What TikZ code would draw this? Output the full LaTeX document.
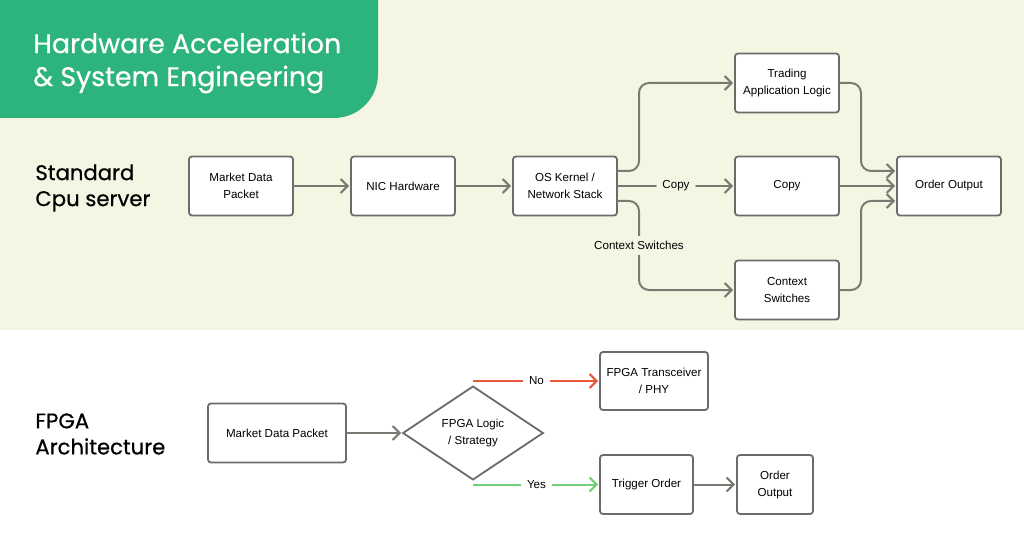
\documentclass[tikz,border=0pt]{standalone}
\usepackage{fontspec}
\setmainfont{Liberation Sans}
\newfontfamily\headfont{Poppins}[FakeBold=0.6]
\usetikzlibrary{arrows.meta,positioning,shapes.geometric}

\definecolor{cream}{HTML}{F4F5E2}
\definecolor{titlegreen}{HTML}{2DB47C}
\definecolor{linegray}{HTML}{7A7A73}
\definecolor{boxgray}{HTML}{6B6B68}
\definecolor{nored}{HTML}{E8573C}
\definecolor{yesgreen}{HTML}{74CC74}

\begin{document}
\begin{tikzpicture}[
    x=0.5pt, y=-0.5pt,
    font=\fontsize{5.8}{8.5}\selectfont,
    node distance=22pt and 29pt,
    box/.style={
        draw=boxgray,
        line width=0.9pt,
        fill=white,
        rounded corners=1.5pt,
        align=center,
        inner sep=1pt,
        outer sep=0pt,
        minimum width=52pt,
        minimum height=29.5pt
    },
    decision/.style={
        diamond,
        draw=boxgray,
        line width=0.9pt,
        fill=white,
        align=center,
        inner sep=0pt,
        outer sep=0pt,
        aspect=1.5,
        minimum width=70pt,
        minimum height=46.5pt
    },
    heading/.style={
        anchor=west,
        align=left,
        inner sep=0pt,
        text=black,
        font=\headfont\fontsize{10.6}{13}\selectfont
    },
    lbl/.style={
        fill=cream,
        inner xsep=3pt,
        inner ysep=2.5pt
    },
    flow/.style={
        draw=linegray,
        line width=1pt,
        rounded corners=5pt,
        shorten >=1pt,
        -{Straight Barb[length=3.5pt,width=7pt]}
    },
    noflow/.style={flow, draw=nored},
    yesflow/.style={flow, draw=yesgreen}
]

% Page and backgrounds
\useasboundingbox (0,0) rectangle (1024,535);
\clip (0,0) rectangle (1024,535);
\fill[cream] (0,0) rectangle (1024,330);
\fill[white] (0,330) rectangle (1024,535);
\fill[titlegreen, rounded corners=22pt] (-60,-60) rectangle (378,118);

\node[anchor=west, align=left, text=white, inner sep=0pt,
      font=\headfont\fontsize{13.4}{16.5}\selectfont] (title) at (33,63)
    {Hardware Acceleration\\\& System Engineering};

\node[heading] (cpulabel) at (35,188) {Standard\\Cpu server};
\node[heading] (fpgalabel) at (35,434) {FPGA\\Architecture};

% Standard CPU path
\node[box] (packet) at (241,186) {Market Data\\Packet};
\node[box, right=of packet] (nic) {NIC Hardware};
\node[box, right=of nic] (kernel) {OS Kernel /\\Network Stack};
\node[box, right=59pt of kernel] (copy) {Copy};
\node[box, above=of copy] (trading) {Trading\\Application Logic};
\node[box, below=22.5pt of copy] (ctxsw) {Context\\Switches};
\node[box, right=of copy] (order) {Order Output};

% FPGA path
\node[box, minimum width=69pt] (fpacket) at (277,433) {Market Data Packet};
\node[decision, right=28.5pt of fpacket] (logic) {FPGA Logic\\/ Strategy};
\node[box, minimum width=54pt, minimum height=29pt] (phy) at (654,381)
    {FPGA Transceiver\\/ PHY};
\node[box, minimum width=46.5pt] (trigger) at (646.5,484.5) {Trigger Order};
\node[box, minimum width=38pt, right=22pt of trigger] (forder) {Order\\Output};

% CPU connectors
\draw[flow] (packet) -- (nic);
\draw[flow] (nic) -- (kernel);
\draw[flow] ([yshift=7.5pt]kernel.east) -- ++(11pt,0) |- (trading.west);
\draw[flow] (kernel) -- node[lbl] {Copy} (copy);
\draw[flow] ([yshift=-7.5pt]kernel.east) -- ++(11pt,0)
    |- node[lbl, pos=0.25] {Context Switches} (ctxsw.west);
\draw[flow] (trading.east) -- ++(11pt,0) |- ([yshift=7.5pt]order.west);
\draw[flow] (copy) -- (order);
\draw[flow] (ctxsw.east) -- ++(11pt,0) |- ([yshift=-7.5pt]order.west);

% FPGA connectors
\draw[flow] (fpacket) -- (logic);
\draw[noflow] (logic.north |- phy.west)
    -- node[lbl, fill=white, text=black] {No} (phy.west);
\draw[yesflow] (logic.south |- trigger.west)
    -- node[lbl, fill=white, text=black] {Yes} (trigger.west);
\draw[flow] (trigger) -- (forder);

\end{tikzpicture}
\end{document}
